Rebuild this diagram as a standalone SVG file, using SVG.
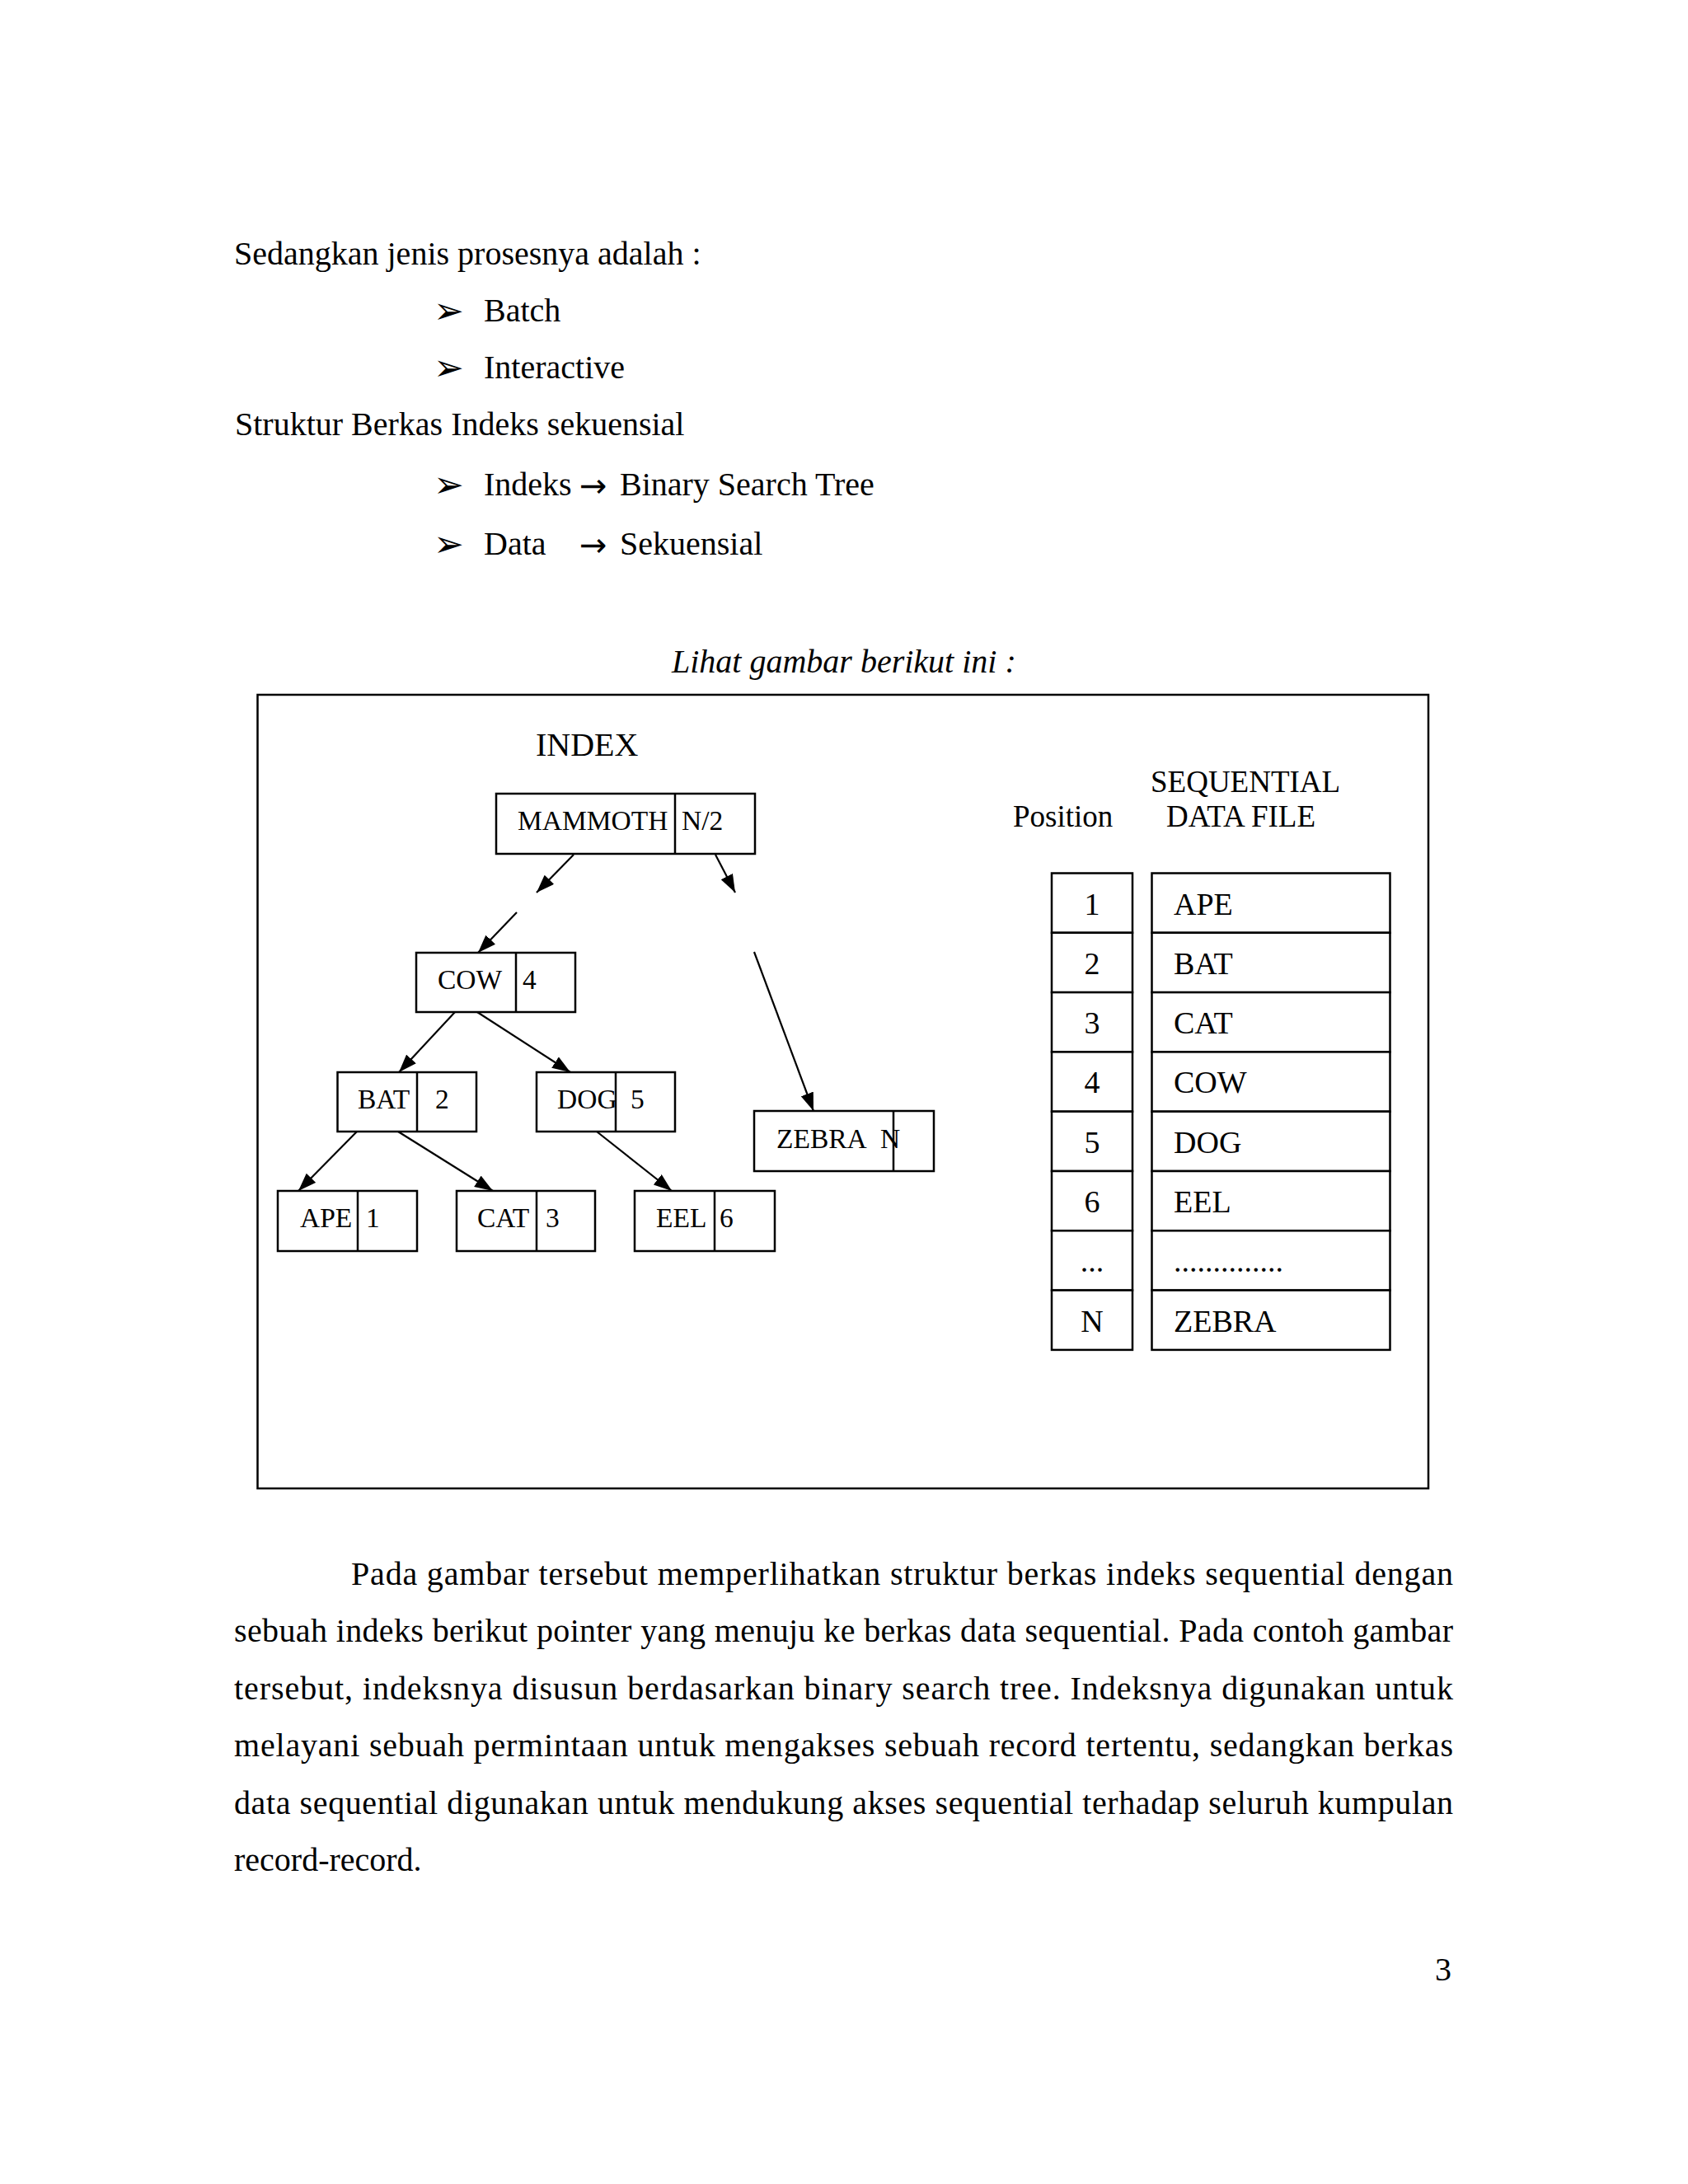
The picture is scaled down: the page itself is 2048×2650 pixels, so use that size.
<svg xmlns="http://www.w3.org/2000/svg" width="2048" height="2650" viewBox="0 0 2048 2650">
<defs>
<style>
.t{font-family:"Liberation Serif","Times New Roman",serif;fill:#000}
.body{font-size:40px}
.it{font-size:40px;font-style:italic}
.bul{font-family:"DejaVu Sans",sans-serif;font-size:44px;fill:#000}
.arr{font-family:"DejaVu Sans",sans-serif;font-size:40px;fill:#000}
.nd{font-size:33.5px}
.lb{font-size:37px}
.tb{font-size:38px}
.box{fill:#fff;stroke:#000;stroke-width:2.5}
.div{stroke:#000;stroke-width:2.5}
.con{stroke:#000;stroke-width:2.2;fill:none;marker-end:url(#ah)}
</style>
<marker id="ah" markerUnits="userSpaceOnUse" markerWidth="24" markerHeight="18" refX="22" refY="8" orient="auto">
<path d="M0,0 L22,8 L0,16 z" fill="#000"/>
</marker>
</defs>
<rect width="2048" height="2650" fill="#fff"/>

<g id="intro">
<text class="t body" x="284" y="321">Sedangkan jenis prosesnya adalah :</text>
<text class="bul" x="526" y="392">➢</text>
<text class="t body" x="587" y="390">Batch</text>
<text class="bul" x="526" y="461">➢</text>
<text class="t body" x="587" y="459">Interactive</text>
<text class="t body" x="285" y="528">Struktur Berkas Indeks sekuensial</text>
<text class="bul" x="526" y="603">➢</text>
<text class="t body" x="587" y="601">Indeks</text>
<text class="arr" x="703" y="603">→</text>
<text class="t body" x="752" y="601">Binary Search Tree</text>
<text class="bul" x="526" y="675">➢</text>
<text class="t body" x="587" y="673">Data</text>
<text class="arr" x="703" y="675">→</text>
<text class="t body" x="752" y="673">Sekuensial</text>
<text class="t it" x="815" y="816">Lihat gambar berikut ini :</text>
</g>

<rect id="frame" x="312.5" y="843" width="1420.5" height="963" fill="none" stroke="#000" stroke-width="2.5"/>

<g id="labels">
<text class="t body" x="650" y="917">INDEX</text>
<text class="t lb" x="1396" y="961">SEQUENTIAL</text>
<text class="t lb" x="1229" y="1003">Position</text>
<text class="t lb" x="1415" y="1003">DATA FILE</text>
</g>

<g id="connectors">
<line class="con" x1="696" y1="1037" x2="651" y2="1083"/>
<line class="con" x1="868" y1="1037" x2="892" y2="1083"/>
<line class="con" x1="627" y1="1107" x2="580" y2="1156"/>
<line class="con" x1="915" y1="1155" x2="987" y2="1348"/>
<line class="con" x1="552" y1="1228" x2="484" y2="1301"/>
<line class="con" x1="579" y1="1228" x2="692" y2="1301"/>
<line class="con" x1="433" y1="1373" x2="362" y2="1445"/>
<line class="con" x1="483" y1="1373" x2="598" y2="1445"/>
<line class="con" x1="724" y1="1373" x2="815" y2="1445"/>
</g>

<g id="node-mammoth">
<rect class="box" x="602" y="963" width="314" height="73"/>
<line class="div" x1="819" y1="963" x2="819" y2="1036"/>
<text class="t nd" x="628" y="1007">MAMMOTH</text>
<text class="t nd" x="827" y="1007">N/2</text>
</g>
<g id="node-cow">
<rect class="box" x="505" y="1156" width="193" height="72"/>
<line class="div" x1="626" y1="1156" x2="626" y2="1228"/>
<text class="t nd" x="531" y="1200">COW</text>
<text class="t nd" x="634" y="1200">4</text>
</g>
<g id="node-bat">
<rect class="box" x="409.5" y="1301" width="168.5" height="72"/>
<line class="div" x1="506" y1="1301" x2="506" y2="1373"/>
<text class="t nd" x="434" y="1345">BAT</text>
<text class="t nd" x="528" y="1345">2</text>
</g>
<g id="node-dog">
<rect class="box" x="651" y="1301" width="168" height="72"/>
<line class="div" x1="747" y1="1301" x2="747" y2="1373"/>
<text class="t nd" x="676" y="1345">DOG</text>
<text class="t nd" x="765" y="1345">5</text>
</g>
<g id="node-zebra">
<rect class="box" x="915" y="1348" width="218" height="73"/>
<text class="t nd" x="942" y="1393">ZEBRA</text>
<text class="t nd" x="1068" y="1393">N</text>
<line class="div" x1="1084" y1="1348" x2="1084" y2="1421"/>
</g>
<g id="node-ape">
<rect class="box" x="337" y="1445" width="169" height="73"/>
<line class="div" x1="434" y1="1445" x2="434" y2="1518"/>
<text class="t nd" x="364" y="1489">APE</text>
<text class="t nd" x="444" y="1489">1</text>
</g>
<g id="node-cat">
<rect class="box" x="554" y="1445" width="168" height="73"/>
<line class="div" x1="651" y1="1445" x2="651" y2="1518"/>
<text class="t nd" x="579" y="1489">CAT</text>
<text class="t nd" x="662" y="1489">3</text>
</g>
<g id="node-eel">
<rect class="box" x="770" y="1445" width="170" height="73"/>
<line class="div" x1="867" y1="1445" x2="867" y2="1518"/>
<text class="t nd" x="796" y="1489">EEL</text>
<text class="t nd" x="873" y="1489">6</text>
</g>

<g id="table">
<rect class="box" x="1276" y="1059.5" width="98" height="72.3"/>
<rect class="box" x="1397.5" y="1059.5" width="289" height="72.3"/>
<text class="t tb" x="1325" y="1109.5" text-anchor="middle">1</text>
<text class="t tb" x="1424" y="1109.5">APE</text>
<rect class="box" x="1276" y="1131.8" width="98" height="72.3"/>
<rect class="box" x="1397.5" y="1131.8" width="289" height="72.3"/>
<text class="t tb" x="1325" y="1181.8" text-anchor="middle">2</text>
<text class="t tb" x="1424" y="1181.8">BAT</text>
<rect class="box" x="1276" y="1204.1" width="98" height="72.3"/>
<rect class="box" x="1397.5" y="1204.1" width="289" height="72.3"/>
<text class="t tb" x="1325" y="1254.1" text-anchor="middle">3</text>
<text class="t tb" x="1424" y="1254.1">CAT</text>
<rect class="box" x="1276" y="1276.4" width="98" height="72.3"/>
<rect class="box" x="1397.5" y="1276.4" width="289" height="72.3"/>
<text class="t tb" x="1325" y="1326.4" text-anchor="middle">4</text>
<text class="t tb" x="1424" y="1326.4">COW</text>
<rect class="box" x="1276" y="1348.7" width="98" height="72.3"/>
<rect class="box" x="1397.5" y="1348.7" width="289" height="72.3"/>
<text class="t tb" x="1325" y="1398.7" text-anchor="middle">5</text>
<text class="t tb" x="1424" y="1398.7">DOG</text>
<rect class="box" x="1276" y="1421" width="98" height="72.3"/>
<rect class="box" x="1397.5" y="1421" width="289" height="72.3"/>
<text class="t tb" x="1325" y="1471" text-anchor="middle">6</text>
<text class="t tb" x="1424" y="1471">EEL</text>
<rect class="box" x="1276" y="1493.3" width="98" height="72.3"/>
<rect class="box" x="1397.5" y="1493.3" width="289" height="72.3"/>
<text class="t tb" x="1325" y="1543.3" text-anchor="middle">...</text>
<text class="t tb" x="1424" y="1543.3">..............</text>
<rect class="box" x="1276" y="1565.6" width="98" height="72.3"/>
<rect class="box" x="1397.5" y="1565.6" width="289" height="72.3"/>
<text class="t tb" x="1325" y="1615.6" text-anchor="middle">N</text>
<text class="t tb" x="1424" y="1615.6">ZEBRA</text>
</g>

<g id="paragraph">
<text class="t body" x="426" y="1923" textLength="1337" lengthAdjust="spacing">Pada gambar tersebut memperlihatkan struktur berkas indeks sequential dengan</text>
<text class="t body" x="284" y="1992.4" textLength="1479" lengthAdjust="spacing">sebuah indeks berikut pointer yang menuju ke berkas data sequential. Pada contoh gambar</text>
<text class="t body" x="284" y="2061.8" textLength="1479" lengthAdjust="spacing">tersebut, indeksnya disusun berdasarkan binary search tree. Indeksnya digunakan untuk</text>
<text class="t body" x="284" y="2131.2" textLength="1479" lengthAdjust="spacing">melayani sebuah permintaan untuk mengakses sebuah record tertentu, sedangkan berkas</text>
<text class="t body" x="284" y="2200.6" textLength="1479" lengthAdjust="spacing">data sequential digunakan untuk mendukung akses sequential terhadap seluruh kumpulan</text>
<text class="t body" x="284" y="2270">record-record.</text>
</g>

<text class="t body" x="1761" y="2403" text-anchor="end">3</text>
</svg>
